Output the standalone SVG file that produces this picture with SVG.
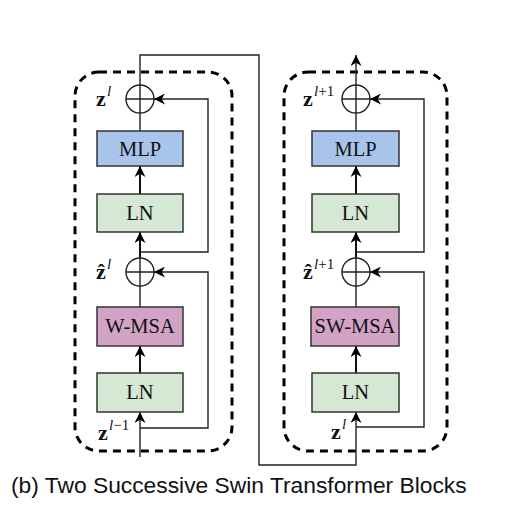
<svg xmlns="http://www.w3.org/2000/svg" width="507" height="514" viewBox="0 0 507 514">
<style>
.box{stroke:#333;stroke-width:1.5}
.mlp{fill:#a9c4eb}
.ln{fill:#d5e8d4}
.msa{fill:#d2a3c5}
.bt{font-family:"Liberation Serif",serif;font-size:20.5px;fill:#111;text-anchor:middle}
.dash{fill:none;stroke:#000;stroke-width:3;stroke-dasharray:8 6}
.ln1{fill:none;stroke:#222;stroke-width:1.4}
.ar{fill:none;stroke:#111;stroke-width:2}
.add{fill:none;stroke:#222;stroke-width:1.4}
.z{font-family:"Liberation Serif",serif;font-weight:bold;font-size:22px;fill:#111}
.sup{font-family:"Liberation Serif",serif;font-style:italic;font-size:15px;fill:#111}
.supn{font-family:"Liberation Serif",serif;font-size:15px;fill:#111}
.cap{font-family:"Liberation Sans",Arial,sans-serif;font-size:22.8px;fill:#111}
</style>
<defs>
<marker id="ah" viewBox="0 0 10 10" refX="10" refY="5" markerWidth="11" markerHeight="11" orient="auto" markerUnits="userSpaceOnUse">
<path d="M0,0 L10,5 L0,10 L3,5 z" fill="#000"/>
</marker>
</defs>

<g id="block1-frame"><rect class="dash" x="75" y="72" width="157" height="379" rx="24"/></g>
<g id="block2-frame"><rect class="dash" x="284" y="72" width="163" height="379" rx="24"/></g>

<g id="connectors">
<path class="ln1" d="M140,457 L140,412" marker-end="url(#ah)"/>
<path class="ar" d="M140,373 L140,346" marker-end="url(#ah)"/>
<path class="ln1" d="M140,307 L140,286"/>
<path class="ar" d="M140,258 L140,232" marker-end="url(#ah)"/>
<path class="ar" d="M140,194 L140,166" marker-end="url(#ah)"/>
<path class="ln1" d="M140,131 L140,113"/>
<path class="ln1" d="M140,428 L208,428 L208,272 L154,272" marker-end="url(#ah)"/>
<path class="ln1" d="M140,252 L208,252 L208,99 L154,99" marker-end="url(#ah)"/>
<path class="ln1" d="M140,85 L140,55 L259,55 L259,465 L356,465 L356,412" marker-end="url(#ah)"/>
<path class="ar" d="M356,373 L356,346" marker-end="url(#ah)"/>
<path class="ln1" d="M356,307 L356,286"/>
<path class="ar" d="M356,258 L356,232" marker-end="url(#ah)"/>
<path class="ar" d="M356,194 L356,166" marker-end="url(#ah)"/>
<path class="ln1" d="M356,131 L356,113"/>
<path class="ln1" d="M356,85 L356,55" marker-end="url(#ah)"/>
<path class="ln1" d="M356,427 L424,427 L424,272 L370,272" marker-end="url(#ah)"/>
<path class="ln1" d="M356,252 L424,252 L424,99 L370,99" marker-end="url(#ah)"/>
</g>

<g id="add1"><circle class="add" cx="140" cy="99" r="14"/><path class="add" d="M126,99 H154 M140,85 V113"/></g>
<g id="add2"><circle class="add" cx="140" cy="272" r="14"/><path class="add" d="M126,272 H154 M140,258 V286"/></g>
<g id="add3"><circle class="add" cx="356" cy="99" r="14"/><path class="add" d="M342,99 H370 M356,85 V113"/></g>
<g id="add4"><circle class="add" cx="356" cy="272" r="14"/><path class="add" d="M342,272 H370 M356,258 V286"/></g>

<g id="mlp1"><rect class="box mlp" x="97" y="131" width="86" height="35"/><text class="bt" x="140" y="155.5">MLP</text></g>
<g id="ln2a"><rect class="box ln" x="97" y="194" width="86" height="38"/><text class="bt" x="140" y="220">LN</text></g>
<g id="wmsa"><rect class="box msa" x="97" y="307" width="86" height="39"/><text class="bt" x="140" y="333">W-MSA</text></g>
<g id="ln1a"><rect class="box ln" x="97" y="373" width="86" height="39"/><text class="bt" x="140" y="399">LN</text></g>

<g id="mlp2"><rect class="box mlp" x="312" y="131" width="87" height="35"/><text class="bt" x="355.5" y="155.5">MLP</text></g>
<g id="ln2b"><rect class="box ln" x="312" y="194" width="87" height="38"/><text class="bt" x="355.5" y="220">LN</text></g>
<g id="swmsa"><rect class="box msa" x="311" y="307" width="88" height="39"/><text class="bt" x="355" y="333">SW-MSA</text></g>
<g id="ln1b"><rect class="box ln" x="312" y="373" width="87" height="39"/><text class="bt" x="355.5" y="399">LN</text></g>

<g id="labels">
<text class="z" x="96" y="106">z</text><text class="sup" x="107" y="96">l</text>
<text class="z" x="96" y="279">ẑ</text><text class="sup" x="107" y="269">l</text>
<text class="z" x="98" y="440">z</text><text class="supn" x="109" y="430"><tspan class="sup">l</tspan>−1</text>
<text class="z" x="303" y="106">z</text><text class="supn" x="314" y="96"><tspan class="sup">l</tspan>+1</text>
<text class="z" x="303" y="279">ẑ</text><text class="supn" x="314" y="269"><tspan class="sup">l</tspan>+1</text>
<text class="z" x="331" y="439">z</text><text class="sup" x="342" y="429">l</text>
</g>

<text class="cap" x="11" y="493">(b) Two Successive Swin Transformer Blocks</text>
</svg>
